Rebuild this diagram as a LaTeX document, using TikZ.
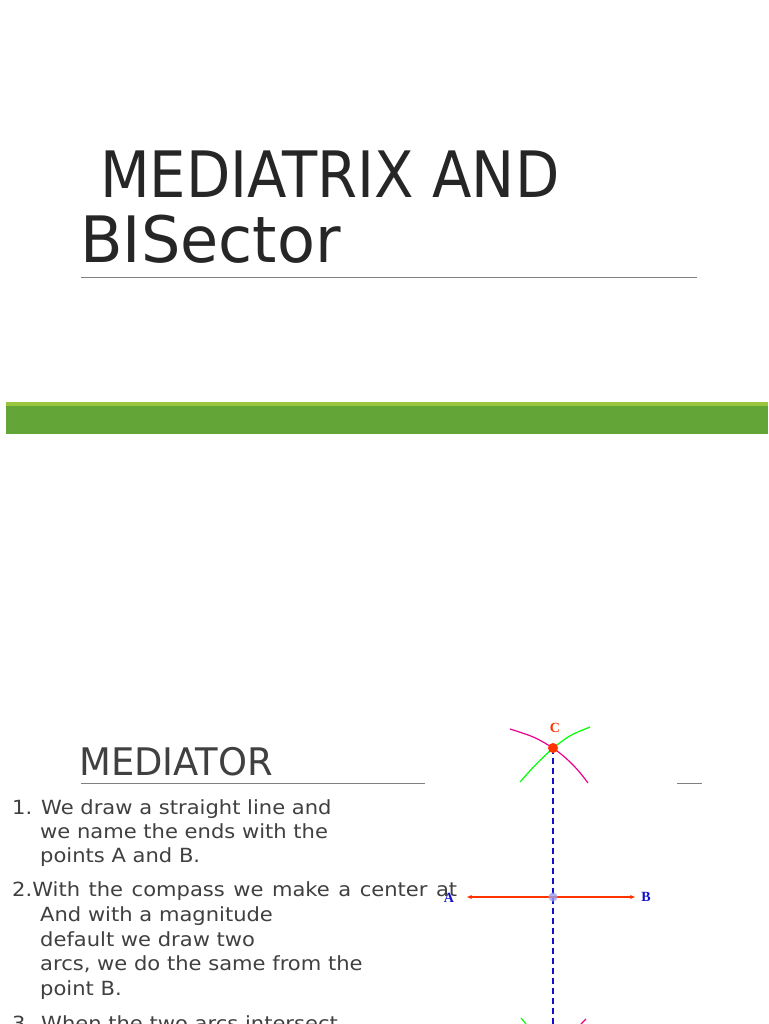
\documentclass[tikz,border=0pt]{standalone}
\usepackage{fontspec}
\setmainfont{DejaVu Sans}
\newfontfamily\lblfont{Liberation Serif}
\usetikzlibrary{arrows.meta}
\definecolor{txt}{HTML}{404040}
\definecolor{ttl}{HTML}{262626}
\definecolor{barg}{HTML}{63A536}
\definecolor{barl}{HTML}{9BC53D}
\definecolor{cred}{HTML}{FF3300}
\definecolor{cblue}{HTML}{1010CC}
\tikzset{
  body/.style={anchor=base west,inner sep=0pt,text=txt,font=\fontsize{19.5}{19.5}\selectfont\addfontfeature{FakeStretch=1.08}},
  lbl/.style={inner sep=0pt,font=\bfseries\lblfont\fontsize{14}{14}\selectfont},
}
\begin{document}
\begin{tikzpicture}[x=1pt,y=-1pt]
\useasboundingbox[fill=white] (0,0) rectangle (768,1024);
% title
\node[anchor=base west,inner sep=0pt,text=ttl,font=\fontsize{64}{64}\selectfont\addfontfeature{FakeStretch=0.9}] (t1) at (100,198) {MEDIATRIX AND};
\node[anchor=base west,inner sep=0pt,text=ttl,font=\fontsize{64}{64}\selectfont\addfontfeature{FakeStretch=0.97}] (t2) at (80,262) {BISector};
\draw[gray,line width=0.8] (81,277) -- (697,277);
% bar
\fill[barg] (6,402) rectangle (768,434);
\fill[barl] (6,402) rectangle (768,405.5);
% mediator heading
\node[anchor=base west,inner sep=0pt,text=txt,font=\fontsize{38}{38}\selectfont\addfontfeature{FakeStretch=0.97}] (mh) at (79,775) {MEDIATOR};
\draw[gray,line width=0.8] (81,783) -- (425,783) (677,783) -- (702,783);
% body
\node[body] (l1) at (12,814) {1. We draw a straight line and};
\node[body] (l2) at (40,838) {we name the ends with the};
\node[body] (l3) at (40,862) {points A and B.};
% diagram
\coordinate (C) at (553,748);
\coordinate (M) at (553,897);
\coordinate (Bot) at (553,1024);
\draw[magenta,line width=1.2] (510,729) .. controls (535,737) .. (C) .. controls (570,760) and (580,772) .. (588,783);
\draw[green,line width=1.2] (520,782) .. controls (535,765) .. (C) .. controls (570,735) .. (590,727);
\draw[green,line width=1.2] (521,1018) -- (526,1024);
\draw[magenta,line width=1.2] (586,1019) -- (581,1024);
\draw[cblue,dashed,dash pattern=on 6pt off 4pt,line width=1.2] (C) -- (Bot);
\coordinate (LA) at (467,897);
\coordinate (LB) at (635,897);
\draw[cred,line width=1.2,{Stealth[length=5pt,width=4pt]}-{Stealth[length=5pt,width=4pt]}] (LA) -- (LB);
\fill[cblue!40,opacity=0.8] (M) circle (4.5);
\fill[cred] (C) circle (5);
\node[lbl,text=cred] (lc) at (555,728) {C};
\node[lbl,text=cblue] (la) at (449,898) {A};
\node[lbl,text=cblue] (lb) at (646,897) {B};
\node[body] (l4) at (12,896) {\hbox to 445pt{2.With\hfill the\hfill compass\hfill we\hfill make\hfill a\hfill center\hfill at}};
\node[body] (l5) at (40,921) {And with a magnitude};
\node[body] (l6) at (40,946) {default we draw two};
\node[body] (l7) at (40,970) {arcs, we do the same from the};
\node[body] (l8) at (40,995) {point B.};
\node[body] (l9) at (12,1030) {3. When the two arcs intersect};
\end{tikzpicture}
\end{document}
